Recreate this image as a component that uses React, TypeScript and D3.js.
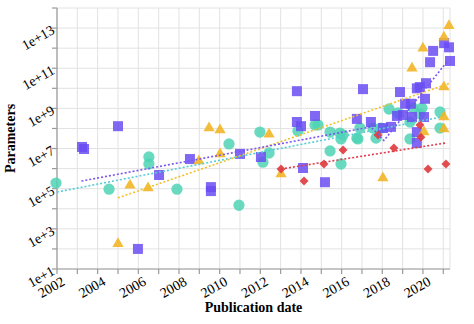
import React from 'react';
import * as d3 from 'd3';

// Purple squares
const sqYear = [2003.23, 2003.33, 2005.0, 2005.98, 2007.02, 2008.54, 2009.57, 2009.57, 2011.0, 2012.03, 2013.8, 2013.8, 2014.0, 2014.1, 2014.69, 2015.18, 2016.75, 2017.05, 2017.44, 2018.03, 2018.43, 2018.87, 2018.72, 2019.02, 2019.12, 2019.41, 2019.46, 2019.7, 2019.85, 2020.15, 2020.1, 2020.05, 2019.7, 2019.7, 2020.35, 2020.5, 2021.04, 2021.28, 2021.33];
const sqParams = [1.2e7, 9.5e6, 1.3e8, 1e2, 4.8e5, 3e6, 1.2e5, 7.6e4, 5.4e6, 3.8e6, 7.2e9, 2.1e8, 1.3e8, 1.07e6, 4.2e8, 2.1e5, 3e8, 9.1e9, 2.1e8, 1.05e8, 1.2e8, 6.5e9, 4.2e8, 4.7e8, 1.7e9, 1.7e9, 3.7e8, 1e10, 1.15e10, 1.8e10, 3e9, 3.7e8, 6.6e7, 1.9e7, 2e11, 7.3e11, 1.8e12, 1.1e12, 2.3e11];

// Teal circles
const ciYear = [2001.95, 2004.56, 2006.52, 2006.52, 2007.9, 2010.46, 2010.95, 2011.98, 2012.13, 2012.43, 2013.85, 2014.69, 2014.84, 2015.43, 2015.43, 2015.92, 2015.97, 2016.07, 2015.97, 2016.75, 2016.8, 2016.9, 2017.54, 2017.69, 2017.94, 2018.33, 2018.77, 2019.36, 2019.36, 2019.51, 2019.95, 2019.85, 2020.84, 2020.84];
const ciParams = [1.9e5, 9.5e4, 3.8e6, 1.7e6, 9.5e4, 1.7e7, 1.5e4, 6.6e7, 2.1e6, 6e6, 7.4e7, 1.5e8, 1.5e8, 6.6e7, 7.6e6, 5.9e7, 3e7, 4.7e7, 1.7e6, 3.3e7, 3e7, 1.05e8, 1.05e8, 3.3e7, 1.05e8, 9.3e8, 5.9e8, 2.1e8, 3e7, 1.05e9, 1.05e9, 5.3e8, 6.6e8, 1.05e8];

// Yellow triangles
const trYear = [2005.0, 2005.59, 2006.48, 2008.98, 2009.48, 2010.02, 2010.02, 2012.43, 2013.02, 2018.03, 2019.46, 2020.0, 2021.03, 2021.28, 2021.03, 2021.03, 2021.03, 2020.05];
const trParams = [1.8e2, 1.5e5, 1.07e5, 2.4e6, 1.05e8, 8.3e7, 5.4e6, 5.2e7, 5.4e5, 3.4e5, 1e11, 1e12, 3.5e12, 1.3e13, 1.15e10, 3.7e8, 9.3e7, 6.6e7];

// Red diamonds
const diYear = [2013.02, 2014.15, 2015.13, 2016.07, 2017.79, 2018.57, 2019.85, 2019.9, 2020.25, 2021.13];
const diParams = [9.6e5, 2.4e5, 1.7e6, 8.5e6, 4.7e7, 1.07e7, 1.5e8, 3.7e7, 9.6e5, 1.7e6];

// Trend lines
const trendPurpleYear = [2003.2, 2017.44, 2018.08, 2021.2];
const trendPurpleParams = [2.4e5, 1.2e8, 2.5e7, 2.2e11];
const trendTealYear = [2002.0, 2020.9];
const trendTealParams = [6.8e4, 3.7e8];
const trendYellowYear = [2005.0, 2021.33];
const trendYellowParams = [3.5e4, 1.8e10];
const trendRedYear = [2013.02, 2021.13];
const trendRedParams = [9.6e5, 1.9e7];

const yearTicks = d3.range(2002, 2022);
const yearLabels = ['2002', '2004', '2006', '2008', '2010', '2012', '2014', '2016', '2018', '2020'];
const expTicks = d3.range(1, 15);
const expLabels = ['1e+1', '1e+3', '1e+5', '1e+7', '1e+9', '1e+11', '1e+13'];

const W = 474;
const H = 324;
const L = 57, R = 450, T = 8, B = 269;

export default function App() {
  const x = d3.scaleLinear().domain([2002, 2021.33]).range([L, R]);
  const y = d3.scaleLog().domain([1e1, 1e14]).range([B, T]);
  const line = d3.line<[number, number]>().x(d => x(d[0])).y(d => y(d[1]));
  const zip = (a: number[], b: number[]) => a.map((v, i) => [v, b[i]] as [number, number]);

  const sq = d3.symbol().type(d3.symbolSquare).size(100)()!;
  const ci = d3.symbol().type(d3.symbolCircle).size(100)()!;
  const tri = d3.symbol().type(d3.symbolTriangle).size(55)()!;
  const dia = d3.symbol().type(d3.symbolSquare).size(40)()!;

  const font = '"Liberation Serif", "Times New Roman", serif';
  const purple = '#6a4cf2';
  const teal = '#4fd4b4';
  const yellow = '#f2b526';
  const red = '#e0393c';

  const trends = [
    { d: zip(trendTealYear, trendTealParams), c: '#56cdd6' },
    { d: zip(trendYellowYear, trendYellowParams), c: '#f4c02a' },
    { d: zip(trendRedYear, trendRedParams), c: '#e0394a' },
    { d: zip(trendPurpleYear, trendPurpleParams), c: '#7b55f2' },
  ];

  return (
    <svg width={W} height={H} style={{ position: 'absolute', left: 0, top: 0, background: '#fff' }} fontFamily={font}>
      {/* grid */}
      <g stroke="#e2e2e2" strokeWidth={1}>
        {yearTicks.map(t => <line key={'gx' + t} x1={x(t)} x2={x(t)} y1={T} y2={B} />)}
        {expTicks.map(e => <line key={'gy' + e} x1={L} x2={R} y1={y(Math.pow(10, e))} y2={y(Math.pow(10, e))} />)}
        <line x1={R} x2={R} y1={T} y2={B} />
      </g>
      {/* axes */}
      <g stroke="#9a9a9a" strokeWidth={1.2}>
        <line x1={L} x2={L} y1={T} y2={B} />
        <line x1={L} x2={R} y1={B} y2={B} />
        {yearTicks.map(t => <line key={'tx' + t} x1={x(t)} x2={x(t)} y1={B} y2={B + 5} />)}
        {expTicks.map(e => <line key={'ty' + e} x1={L - 5} x2={L} y1={y(Math.pow(10, e))} y2={y(Math.pow(10, e))} />)}
      </g>
      {/* tick labels */}
      <g fontSize={14} fill="#000">
        {yearLabels.map(s => {
          const px = x(+s) + 4, py = B + 7;
          return <text key={'lx' + s} x={px} y={py} textAnchor="end" dominantBaseline="hanging" transform={`rotate(-30 ${px} ${py})`}>{s}</text>;
        })}
        {expLabels.map(s => {
          const v = +s;
          const px = L - 3, py = y(v) + 2;
          return <text key={'ly' + s} x={px} y={py} textAnchor="end" dominantBaseline="middle" transform={`rotate(-30 ${px} ${py})`}>{s}</text>;
        })}
      </g>
      {/* axis titles */}
      <text x={(L + R) / 2} y={312} textAnchor="middle" fontWeight="bold" fontSize={14}>Publication date</text>
      <text transform={`translate(15 ${(T + B) / 2}) rotate(-90)`} textAnchor="middle" fontWeight="bold" fontSize={14}>Parameters</text>
      {/* points */}
      <g fill={teal} fillOpacity={0.85}>
        {ciYear.map((yr, i) => <path key={'c' + i} d={ci} transform={`translate(${x(yr)} ${y(ciParams[i])})`} />)}
      </g>
      <g fill={purple} fillOpacity={0.85}>
        {sqYear.map((yr, i) => <path key={'s' + i} d={sq} transform={`translate(${x(yr)} ${y(sqParams[i])})`} />)}
      </g>
      <g fill={yellow} fillOpacity={0.9}>
        {trYear.map((yr, i) => <path key={'t' + i} d={tri} transform={`translate(${x(yr)} ${y(trParams[i])})`} />)}
      </g>
      <g fill={red} fillOpacity={0.9}>
        {diYear.map((yr, i) => <path key={'d' + i} d={dia} transform={`translate(${x(yr)} ${y(diParams[i])}) rotate(45)`} />)}
      </g>
      {/* trend lines */}
      <g fill="none" strokeWidth={1.6} strokeDasharray="2,2">
        {trends.map((t, i) => <path key={'tr' + i} d={line(t.d)!} stroke={t.c} />)}
      </g>
    </svg>
  );
}
